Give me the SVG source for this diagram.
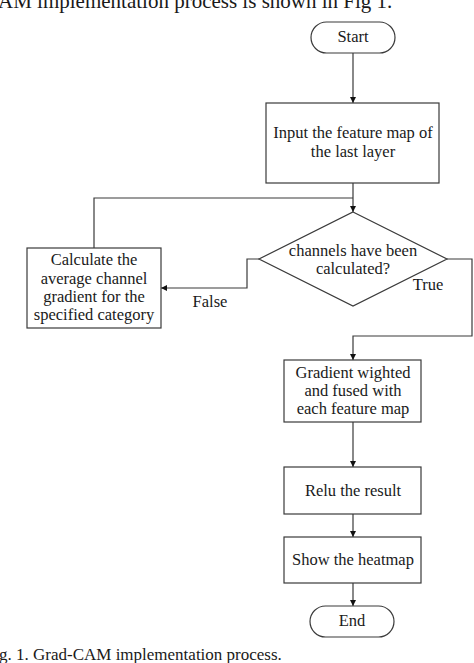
<svg xmlns="http://www.w3.org/2000/svg" width="474" height="663" viewBox="0 0 474 663">
<style>
.box{fill:#fff;stroke:#3a3a3a;stroke-width:1.2}
.ln{fill:none;stroke:#3a3a3a;stroke-width:1.2}
.t{font-family:"Liberation Serif","Times New Roman",serif;font-size:16.5px;fill:#1a1a1a;text-anchor:middle}
.cap{font-family:"Liberation Serif","Times New Roman",serif;fill:#1a1a1a}
</style>
<defs>
<marker id="ah" viewBox="0 0 10 10" refX="10" refY="5" markerWidth="6" markerHeight="6" orient="auto" markerUnits="userSpaceOnUse">
<path d="M0,0 L10,5 L0,10 z" fill="#111"/>
</marker>
</defs>
<rect width="474" height="663" fill="#fff"/>
<text class="cap" x="-2" y="8" font-size="21">AM implementation process is shown in Fig 1.</text>
<text class="cap" x="-1" y="660" font-size="17">g. 1. Grad-CAM implementation process.</text>

<g id="connectors">
<path class="ln" d="M353,53 V103" marker-end="url(#ah)"/>
<path class="ln" d="M353,183 V212" marker-end="url(#ah)"/>
<path class="ln" d="M94,248 V198 H353"/>
<path class="ln" d="M259,259 H247 V288 H161" marker-end="url(#ah)"/>
<path class="ln" d="M447,259 H472 V336 H353 V360" marker-end="url(#ah)"/>
<path class="ln" d="M353,422 V467" marker-end="url(#ah)"/>
<path class="ln" d="M353,514 V537" marker-end="url(#ah)"/>
<path class="ln" d="M353,583 V606" marker-end="url(#ah)"/>
<text class="t" x="210" y="307">False</text>
<text class="t" x="428" y="290">True</text>
</g>

<g id="start">
<rect class="box" x="311" y="22" width="84" height="31" rx="15.5"/>
<text class="t" x="353" y="42">Start</text>
</g>
<g id="input">
<rect class="box" x="266" y="103" width="173" height="80"/>
<text class="t" x="353" y="138">Input the feature map of</text>
<text class="t" x="353" y="157">the last layer</text>
</g>
<g id="decision">
<polygon class="box" points="353,212 447,259 353,306 259,259"/>
<text class="t" x="353" y="256">channels have been</text>
<text class="t" x="353" y="274">calculated?</text>
</g>
<g id="calc">
<rect class="box" x="27" y="248" width="134" height="80"/>
<text class="t" x="94" y="265">Calculate the</text>
<text class="t" x="94" y="284">average channel</text>
<text class="t" x="94" y="302">gradient for the</text>
<text class="t" x="94" y="320">specified category</text>
</g>
<g id="fuse">
<rect class="box" x="284" y="360" width="137" height="62"/>
<text class="t" x="353" y="378">Gradient wighted</text>
<text class="t" x="353" y="396">and fused with</text>
<text class="t" x="353" y="414">each feature map</text>
</g>
<g id="relu">
<rect class="box" x="284" y="467" width="137" height="47"/>
<text class="t" x="353" y="496">Relu the result</text>
</g>
<g id="show">
<rect class="box" x="284" y="537" width="137" height="46"/>
<text class="t" x="353" y="565">Show the heatmap</text>
</g>
<g id="end">
<rect class="box" x="310" y="606" width="84" height="31" rx="15.5"/>
<text class="t" x="352" y="626">End</text>
</g>
</svg>
